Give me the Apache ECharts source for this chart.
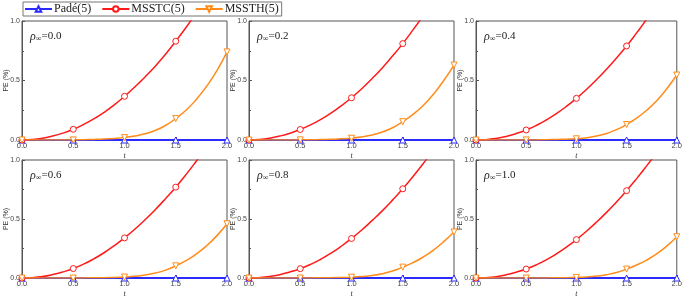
<!DOCTYPE html>
<html>
<head>
<meta charset="utf-8">
<script src="https://cdn.jsdelivr.net/npm/echarts@6/dist/echarts.min.js"></script>
<style>
  html, body { margin: 0; padding: 0; background: #fff; }
  #chart { width: 685px; height: 299px; }
</style>
</head>
<body>
<div id="chart"></div>
<script>
// time points read at 0.1 steps
var tValues = [0, 0.1, 0.2, 0.3, 0.4, 0.5, 0.6, 0.7, 0.8, 0.9, 1.0, 1.1, 1.2, 1.3, 1.4, 1.5, 1.6, 1.7, 1.8, 1.9, 2.0]
var padeT = [0, 0.5, 1.0, 1.5, 2.0]
var padeValues = [0, 0, 0, 0, 0]
var rhoLabels = ['0.0', '0.2', '0.4', '0.6', '0.8', '1.0']

var msstc00 = [0, 0.004, 0.015, 0.033, 0.058, 0.09, 0.13, 0.177, 0.232, 0.295, 0.367, 0.445, 0.53, 0.62, 0.72, 0.83, 0.945, 1.07, 1.2, 1.34, 1.49]
var msstc02 = [0, 0.004, 0.015, 0.033, 0.057, 0.088, 0.127, 0.173, 0.226, 0.287, 0.355, 0.431, 0.515, 0.605, 0.705, 0.81, 0.925, 1.045, 1.17, 1.3, 1.44]
var msstc04 = [0, 0.003, 0.013, 0.03, 0.054, 0.084, 0.122, 0.168, 0.221, 0.282, 0.35, 0.424, 0.506, 0.594, 0.69, 0.79, 0.9, 1.015, 1.14, 1.27, 1.4]
var msstc06 = [0, 0.003, 0.012, 0.029, 0.052, 0.08, 0.117, 0.162, 0.214, 0.274, 0.34, 0.413, 0.493, 0.579, 0.672, 0.77, 0.876, 0.99, 1.11, 1.24, 1.37]
var msstc08 = [0, 0.003, 0.012, 0.028, 0.051, 0.079, 0.115, 0.159, 0.21, 0.269, 0.335, 0.407, 0.486, 0.569, 0.66, 0.756, 0.86, 0.97, 1.085, 1.21, 1.34]
var msstc10 = [0, 0.003, 0.011, 0.027, 0.049, 0.076, 0.111, 0.154, 0.204, 0.261, 0.325, 0.396, 0.473, 0.556, 0.645, 0.74, 0.842, 0.95, 1.063, 1.18, 1.31]

var mssth00 = [0, 0, 0, 0, 0.001, 0.001, 0.003, 0.005, 0.008, 0.013, 0.02, 0.033, 0.052, 0.08, 0.122, 0.18, 0.25, 0.34, 0.45, 0.58, 0.74]
var mssth02 = [0, 0, 0, 0, 0, 0.001, 0.002, 0.004, 0.006, 0.01, 0.015, 0.026, 0.042, 0.067, 0.103, 0.154, 0.215, 0.29, 0.385, 0.5, 0.63]
var mssth04 = [0, 0, 0, 0, 0, 0.001, 0.001, 0.003, 0.004, 0.007, 0.01, 0.019, 0.033, 0.055, 0.087, 0.13, 0.183, 0.25, 0.33, 0.43, 0.546]
var mssth06 = [0, 0, 0, 0, 0, 0, 0.001, 0.002, 0.003, 0.005, 0.008, 0.014, 0.025, 0.042, 0.067, 0.103, 0.147, 0.203, 0.272, 0.357, 0.46]
var mssth08 = [0, 0, 0, 0, 0, 0, 0.001, 0.002, 0.003, 0.004, 0.007, 0.012, 0.021, 0.036, 0.059, 0.092, 0.13, 0.178, 0.237, 0.308, 0.39]
var mssth10 = [0, 0, 0, 0, 0, 0, 0.001, 0.001, 0.002, 0.003, 0.005, 0.009, 0.016, 0.028, 0.047, 0.076, 0.11, 0.152, 0.205, 0.27, 0.35]

var msstcList = [msstc00, msstc02, msstc04, msstc06, msstc08, msstc10]
var mssthList = [mssth00, mssth02, mssth04, mssth06, mssth08, mssth10]

var BLUE = '#2b2bff'
var RED = '#ff1a1a'
var ORANGE = '#ff8c1a'
var DOWN_TRI = 'path://M0,0 L10,0 L5,9 Z'

var colLeft = [22, 249, 476]
var rowTop = [21, 160]
var gridW = 205
var gridH = 119

var chart = echarts.init(document.getElementById('chart'))

// only put markers at t = 0, 0.5, 1.0 ...
function withMarkers(ys) {
  return ys.map(function (y, i) {
    var t = tValues[i]
    var item = { value: [t, y] }
    if (Math.abs(t * 2 - Math.round(t * 2)) > 1e-6) item.symbol = 'none'
    return item
  })
}

var grids = [], xAxes = [], yAxes = [], series = [], titles = []
for (var k = 0; k < 6; k++) {
  var col = k % 3, row = Math.floor(k / 3)
  grids.push({
    left: colLeft[col], top: rowTop[row], width: gridW, height: gridH,
    show: true, borderColor: '#555', borderWidth: 1, backgroundColor: 'transparent'
  })
  xAxes.push({
    type: 'value', gridIndex: k, min: 0, max: 2, interval: 0.5,
    name: 't', nameLocation: 'middle', nameGap: 12, nameMoveOverlap: false,
    nameTextStyle: { fontFamily: 'Liberation Serif', fontStyle: 'italic', fontSize: 8, color: '#333' },
    axisLine: { show: true, lineStyle: { color: '#555', width: 1 } },
    axisTick: { show: true, inside: true, length: 3, lineStyle: { color: '#555' } },
    axisLabel: { fontFamily: 'Liberation Sans', fontSize: 7.5, color: '#444', margin: 2,
      formatter: function (v) { return v.toFixed(1) } },
    splitLine: { show: false }
  })
  yAxes.push({
    type: 'value', gridIndex: k, min: 0, max: 1, interval: 0.5,
    name: 'PE (%)', nameLocation: 'middle', nameGap: 12, nameRotate: 90, nameMoveOverlap: false,
    nameTextStyle: { fontFamily: 'Liberation Sans', fontSize: 7, color: '#333' },
    axisLine: { show: true, lineStyle: { color: '#555', width: 1 } },
    axisTick: { show: true, inside: true, length: 3, lineStyle: { color: '#555' } },
    minorTick: { show: true, splitNumber: 2, length: 2, lineStyle: { color: '#555' } },
    axisLabel: { fontFamily: 'Liberation Sans', fontSize: 7, color: '#444', margin: 2,
      formatter: function (v) { return v.toFixed(1) } },
    splitLine: { show: false }
  })
  titles.push({
    left: colLeft[col] + 3, top: rowTop[row] + 4,
    text: '{r|ρ}{s|∞}{v|=' + rhoLabels[k] + '}',
    textStyle: {
      rich: {
        r: { fontFamily: 'Liberation Serif', fontStyle: 'italic', fontWeight: 'normal', fontSize: 12, color: '#222' },
        s: { fontFamily: 'Liberation Serif', fontWeight: 'normal', fontSize: 8, color: '#222', padding: [5, 0, 0, 0] },
        v: { fontFamily: 'Liberation Serif', fontWeight: 'normal', fontSize: 11, color: '#222' }
      }
    }
  })
  series.push({
    name: 'Padé(5)', type: 'line', xAxisIndex: k, yAxisIndex: k,
    data: padeT.map(function (t, i) { return [t, padeValues[i]] }),
    symbol: 'triangle', symbolSize: 6, showAllSymbol: true,
    lineStyle: { color: BLUE, width: 1.8 },
    itemStyle: { color: '#fff', borderColor: BLUE, borderWidth: 1 },
    emphasis: { disabled: true }, animation: false
  })
  series.push({
    name: 'MSSTC(5)', type: 'line', xAxisIndex: k, yAxisIndex: k,
    data: withMarkers(msstcList[k]), smooth: true,
    symbol: 'circle', symbolSize: 6, showAllSymbol: true,
    lineStyle: { color: RED, width: 1.5 },
    itemStyle: { color: '#fff', borderColor: RED, borderWidth: 1 },
    emphasis: { disabled: true }, animation: false
  })
  series.push({
    name: 'MSSTH(5)', type: 'line', xAxisIndex: k, yAxisIndex: k,
    data: withMarkers(mssthList[k]), smooth: true,
    symbol: DOWN_TRI, symbolSize: 6, showAllSymbol: true,
    lineStyle: { color: ORANGE, width: 1.5 },
    itemStyle: { color: '#fff', borderColor: ORANGE, borderWidth: 1 },
    emphasis: { disabled: true }, animation: false
  })
}

chart.setOption({
  animation: false,
  title: titles,
  legend: {
    left: 23, top: 2,
    data: ['Padé(5)', 'MSSTC(5)', 'MSSTH(5)'],
    itemWidth: 27, itemHeight: 7, itemGap: 10,
    padding: [1, 3, 1, 1],
    borderColor: '#777', borderWidth: 1,
    textStyle: { fontFamily: 'Liberation Serif', fontSize: 12, color: '#222', padding: [0, 0, 0, -3] }
  },
  grid: grids,
  xAxis: xAxes,
  yAxis: yAxes,
  series: series
})
</script>
</body>
</html>
